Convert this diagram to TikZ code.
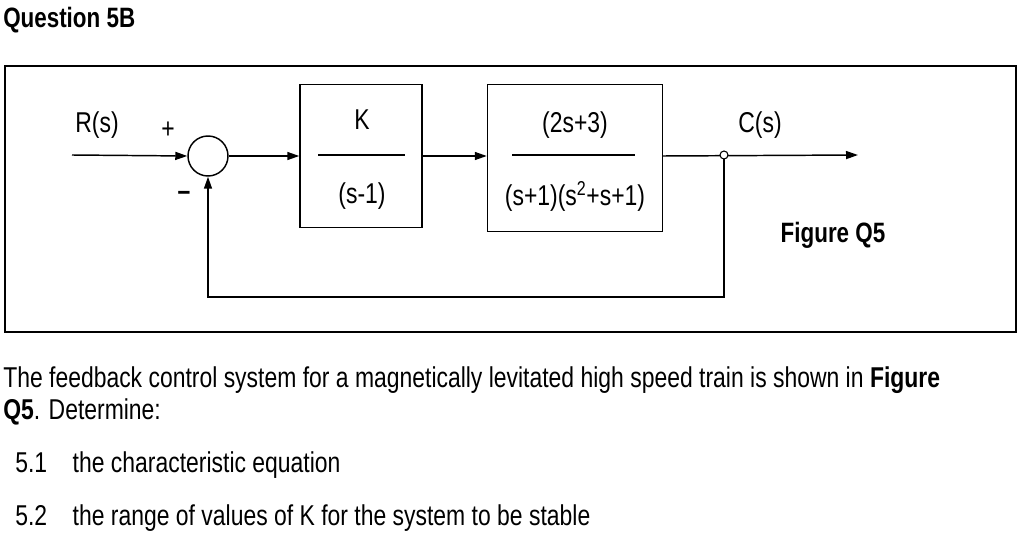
\documentclass[tikz,border=0pt]{standalone}
\usepackage{fontspec}
\setmainfont{Liberation Sans}
\usetikzlibrary{arrows.meta}
\newcommand{\sq}[1]{\scalebox{0.8}[1]{#1}}
\begin{document}
\begin{tikzpicture}[x=0.75pt,y=-0.75pt,
  txt/.style={inner sep=0pt,font=\fontsize{21.5}{24}\selectfont},
  ln/.style={line width=1.1pt},
  arr/.style={ln,-{Triangle[length=9pt,width=6pt]}}]
\useasboundingbox[fill=white] (0,0) rectangle (1024,545);
\node[txt,anchor=west,font=\bfseries\fontsize{21}{24}\selectfont] (q) at (3,20) {\sq{Question 5B}};
\draw[line width=0.8pt] (5,66) rectangle (1016,332);
\coordinate (in) at (72,155);
\node[draw,ln,circle,minimum size=40pt*0.75,inner sep=0pt] (sum) at (208,156) {};
\node[draw,ln,minimum width=122*0.75pt,minimum height=143*0.75pt] (b1) at (361,156) {};
\node[draw,ln,minimum width=175*0.75pt,minimum height=147*0.75pt] (b2) at (575,158) {};
\node[txt] (rs) at (97,125) {\sq{R(s)}};
\node[txt] (p) at (168,130) {\sq{+}};
\node[txt] (m) at (184,196) {\sq{\textbf{–}}};
\node[txt] (k) at (362,120) {\sq{K}};
\draw[ln] (318,155) -- (405,155);
\node[txt] (d1) at (362,196) {\sq{(s-1)}};
\node[txt] (n2) at (575,125) {\sq{(2s+3)}};
\draw[ln] (512,155) -- (635,155);
\node[txt] (d2) at (575,196) {\sq{(s+1)(s\textsuperscript{2}+s+1)}};
\node[txt] (cs) at (760,125) {\sq{C(s)}};
\node[txt,font=\bfseries\fontsize{21}{24}\selectfont] (fq) at (833,235) {\sq{Figure Q5}};
\coordinate (out) at (858,155);
\coordinate (pk) at (724,155);
\coordinate (fb1) at (724,297);
\coordinate (fb2) at (208,297);
\draw[arr] (in) -- (sum.west);
\draw[arr] (sum.east) -- (b1.west |- sum.east);
\draw[arr] (b1.east |- sum.east) -- (b2.west |- sum.east);
\draw[arr] (b2.east |- sum.east) -- (out);
\draw[arr] (pk) -- (fb1) -- (fb2) -- (sum.south);
\draw[line width=0.8pt,fill=white] (pk) circle (4);
\node[txt,anchor=west] (t1) at (3,380) {\sq{The feedback control system for a magnetically levitated high speed train is shown in \textbf{Figure}}};
\node[txt,anchor=west] (t2) at (3,412) {\sq{\textbf{Q5}. Determine:}};
\node[txt,anchor=west] (t3) at (15,465) {\sq{5.1\hspace{24pt}the characteristic equation}};
\node[txt,anchor=west] (t4) at (15,518) {\sq{5.2\hspace{24pt}the range of values of K for the system to be stable}};
\end{tikzpicture}
\end{document}
